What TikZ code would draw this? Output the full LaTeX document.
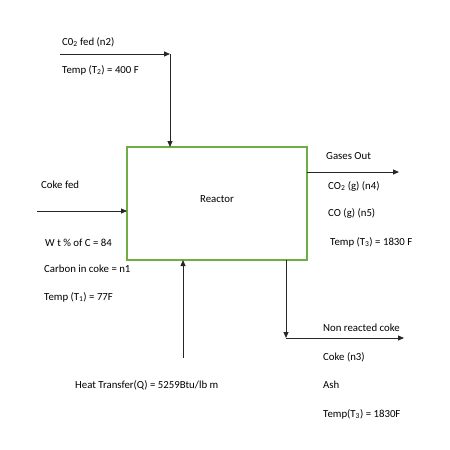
\documentclass[tikz,border=0pt]{standalone}
\usepackage{fontspec}
\setmainfont{Carlito}
\usetikzlibrary{arrows.meta}
\definecolor{boxgreen}{RGB}{112,173,71}
\begin{document}
\begin{tikzpicture}[x=1pt,y=-1pt,
  flow/.style={draw=black!85,line width=0.8pt,-{Triangle[length=6pt,width=5pt]}},
  lbl/.style={anchor=west,inner sep=0pt,font=\fontsize{10.8}{12}\selectfont},
  reactor/.style={draw=boxgreen,line width=1.2pt,minimum width=180pt,minimum height=113pt,inner sep=0pt}]
\useasboundingbox (0,0) rectangle (450,450);
% reactor
\node[reactor] (R) at (217,203.5) {};
\node[lbl,anchor=center] (Rl) at (217,199) {Reactor};
% CO2 feed
\coordinate (a0) at (60,54);
\coordinate (a1) at (170,54);
\coordinate (a2) at (170,147);
\draw[flow] (a0) -- (a1);
\draw[flow] (a1) -- (a2);
\node[lbl] (t1) at (62,42) {C0\textsubscript{2} fed (n2)};
\node[lbl] (t2) at (62,70) {Temp (T\textsubscript{2}) = 400 F};
% coke feed
\coordinate (b0) at (37,211);
\coordinate (b1) at (127,211);
\draw[flow] (b0) -- (b1);
\node[lbl] (c1) at (41,185) {Coke fed};
\node[lbl] (c2) at (45,243) {W t \% of C = 84};
\node[lbl] (c3) at (44,269) {Carbon in coke = n1};
\node[lbl] (c4) at (44,297) {Temp (T\textsubscript{1}) = 77F};
% heat
\coordinate (h0) at (183,358);
\coordinate (h1) at (183,260);
\draw[flow] (h0) -- (h1);
\node[lbl] (h) at (75,385) {Heat Transfer(Q) = 5259Btu/lb m};
% gases out
\coordinate (g0) at (307,172);
\coordinate (g1) at (399,172);
\draw[flow] (g0) -- (g1);
\node[lbl] (g) at (326,156) {Gases Out};
\node[lbl] (g2) at (328,186) {CO\textsubscript{2} (g) (n4)};
\node[lbl] (g3) at (328,213) {CO (g) (n5)};
\node[lbl] (g4) at (330,242) {Temp (T\textsubscript{3}) = 1830 F};
% non reacted coke
\coordinate (n0) at (286,260);
\coordinate (n1) at (286,338);
\coordinate (n2) at (404,338);
\draw[flow] (n0) -- (n1);
\draw[flow] (n1) -- (n2);
\node[lbl] (k1) at (323,328) {Non reacted coke};
\node[lbl] (k2) at (323,357) {Coke (n3)};
\node[lbl] (k3) at (323,385) {Ash};
\node[lbl] (k4) at (323,414) {Temp(T\textsubscript{3}) = 1830F};
\end{tikzpicture}
\end{document}
